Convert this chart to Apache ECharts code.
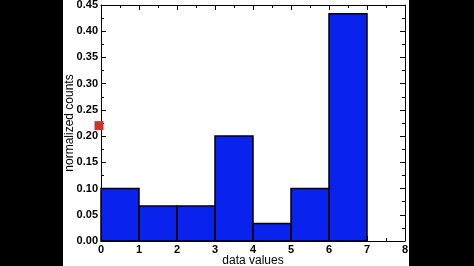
<!DOCTYPE html>
<html><head><meta charset="utf-8">
<script src="https://cdn.jsdelivr.net/npm/echarts@6/dist/echarts.min.js"></script>
<style>html,body{margin:0;padding:0;background:#000}#c{width:474px;height:266px}</style>
</head><body><div id="c"></div>
<script>
const binStarts = [0, 1, 2, 3, 4, 5, 6];
const binWidth = 1;
const counts = [0.1, 0.0667, 0.0667, 0.2, 0.0333, 0.1, 0.4333];
const markerPoint = [0, 0.22];
const xTitle = 'data values';
const yTitle = 'normalized counts';

const chart = echarts.init(document.getElementById('c'), null, {renderer: 'canvas'});
const font = '"Liberation Sans", Arial, sans-serif';
const lbl = {fontFamily: font, fontWeight: 'bold', fontSize: 11, color: '#000'};
const line = {show: true, onZero: false, lineStyle: {color: '#000', width: 1}};
const tick = {show: true, inside: true, length: 5, lineStyle: {color: '#000', width: 1}};
const minor = {show: true, splitNumber: 2, length: 3, lineStyle: {color: '#000', width: 1}};

chart.setOption({
  backgroundColor: '#000',
  animation: false,
  graphic: [{type: 'rect', shape: {x: 63, y: 0, width: 346, height: 266}, style: {fill: '#fff'}, z: -10, silent: true}],
  grid: {left: 101, right: 69, top: 5, bottom: 25, containLabel: false, outerBoundsMode: 'none'},
  xAxis: [
    {type: 'value', min: 0, max: 8, interval: 1, position: 'bottom', axisLine: line, axisTick: tick, minorTick: minor,
     splitLine: {show: false}, minorSplitLine: {show: false}, axisLabel: Object.assign({margin: 3}, lbl),
     name: xTitle, nameLocation: 'middle', nameGap: 14, nameMoveOverlap: false,
     nameTextStyle: {fontFamily: font, fontSize: 12, color: '#000'}},
    {type: 'value', min: 0, max: 8, interval: 1, position: 'top', axisLine: line, axisTick: tick, minorTick: minor,
     splitLine: {show: false}, axisLabel: {show: false}}
  ],
  yAxis: [
    {type: 'value', min: 0, max: 0.45, interval: 0.05, position: 'left', axisLine: line, axisTick: tick, minorTick: minor,
     splitLine: {show: false}, axisLabel: Object.assign({margin: 3, formatter: v => v.toFixed(2)}, lbl),
     name: yTitle, nameLocation: 'middle', nameGap: 25, nameRotate: 90, nameMoveOverlap: false,
     nameTextStyle: {fontFamily: font, fontSize: 12, color: '#000'}},
    {type: 'value', min: 0, max: 0.45, interval: 0.05, position: 'right', axisLine: line, axisTick: tick, minorTick: minor,
     splitLine: {show: false}, axisLabel: {show: false}}
  ],
  series: [
    {type: 'custom', xAxisIndex: 0, yAxisIndex: 0,
     data: binStarts.map((s, i) => [s, s + binWidth, counts[i]]),
     renderItem: function (params, api) {
       const p0 = api.coord([api.value(0), 0]);
       const p1 = api.coord([api.value(1), api.value(2)]);
       return {type: 'rect', shape: {x: p0[0], y: p1[1], width: p1[0] - p0[0], height: p0[1] - p1[1]},
               style: {fill: '#0a22ee', stroke: '#000', lineWidth: 1.5}};
     }, z: 2},
    {type: 'scatter', xAxisIndex: 0, yAxisIndex: 0, data: [markerPoint], symbol: 'rect', symbolSize: 9,
     symbolOffset: [-2, 0], itemStyle: {color: '#c8372a', opacity: 1}, z: 5}
  ]
});
</script></body></html>
